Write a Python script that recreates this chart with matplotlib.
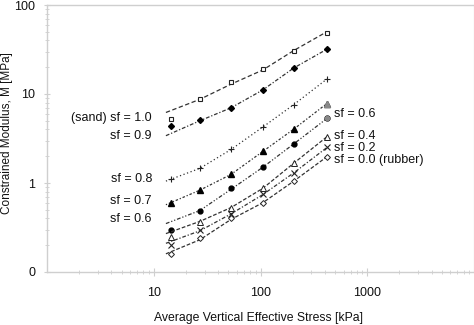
import matplotlib
matplotlib.use('Agg')
import matplotlib.pyplot as plt
from matplotlib.ticker import FixedLocator, FixedFormatter, LogLocator, NullFormatter

plt.rcParams['font.family'] = ['Liberation Sans', 'DejaVu Sans']

# Average vertical effective stress [kPa] of the test points
stress = [14.4, 27, 53, 105, 205, 418]
fit_x = [13, 27, 53, 105, 205, 418]

# Constrained modulus [MPa], measured points
m_sf10 = [5.3, 8.8, 13.6, 18.9, 30.6, 48.8]
m_sf09 = [4.35, 5.1, 7.0, 11.1, 19.6, 31.8]
m_sf08 = [1.10, 1.46, 2.38, 4.25, 7.6, 14.7]
m_sf07 = [0.60, 0.83, 1.25, 2.26, 4.03, 7.8]
m_sf06 = [0.30, 0.485, 0.88, 1.52, 2.75, 5.35]
m_sf04 = [0.248, 0.366, 0.53, 0.87, 1.67, 3.3]
m_sf02 = [0.20, 0.294, 0.454, 0.743, 1.30, 2.53]
m_sf00 = [0.161, 0.241, 0.40, 0.60, 1.05, 1.97]

# Trend lines
f_sf10 = [6.2, 8.7, 12.9, 18.6, 30.8, 50]
f_sf09 = [3.4, 5.0, 7.0, 11.1, 19.6, 31.8]
f_sf08 = [1.05, 1.46, 2.38, 4.25, 7.6, 14.7]
f_sf07 = [0.57, 0.83, 1.25, 2.26, 4.03, 7.8]
f_sf06 = [0.35, 0.49, 0.85, 1.5, 2.75, 5.3]
f_sf04 = [0.27, 0.37, 0.53, 0.87, 1.67, 3.3]
f_sf02 = [0.21, 0.29, 0.45, 0.74, 1.3, 2.5]
f_sf00 = [0.16, 0.23, 0.39, 0.6, 1.05, 1.97]

y_ticks = [0.1, 1, 10, 100]
y_tick_labels = ['0', '1', '10', '100']
x_ticks = [10, 100, 1000]
x_tick_labels = ['10', '100', '1000']

fig = plt.figure(figsize=(4.74, 3.25), dpi=100)
ax = fig.add_axes([47 / 474, 1 - 272 / 325, 427 / 474, 267 / 325])
ax.set_xscale('log')
ax.set_yscale('log')

lc = '#333333'
lw = 0.9
series = [
    (m_sf10, f_sf10, dict(marker='s', mfc='white', mec='#222222', ms=3.5, mew=0.8), (0, (3.5, 2))),
    (m_sf09, f_sf09, dict(marker='D', mfc='black', mec='black', ms=3), (0, (3, 1.5, 1, 1.5))),
    (m_sf08, f_sf08, dict(marker='+', mec='#222222', ms=5, mew=0.8), (0, (1, 2))),
    (m_sf07, f_sf07, dict(marker='^', mfc='black', mec='black', ms=4), (0, (1, 1.5, 2, 1.5))),
    (m_sf06, f_sf06, dict(marker='o', mfc='black', mec='black', ms=3.5), (0, (3, 1.5, 1, 1.5, 1, 1.5))),
    (m_sf04, f_sf04, dict(marker='^', mfc='white', mec='#222222', ms=4, mew=0.7), (0, (3, 1.5))),
    (m_sf02, f_sf02, dict(marker='x', mec='#222222', ms=4, mew=0.8), (0, (3, 1.5, 1, 1.5))),
    (m_sf00, f_sf00, dict(marker='D', mfc='white', mec='#222222', ms=3, mew=0.7), (0, (3, 1.5))),
]
for m, f, mk, ls in series:
    ax.plot(fit_x, f, color=lc, lw=lw, linestyle=ls)
    ax.plot(stress, m, linestyle='none', **mk)

# last points of sf = 0.7 and 0.6 appear grey in the original
ax.plot(stress[-1:], m_sf07[-1:], linestyle='none', marker='^', mfc='#888888', mec='#888888', ms=4)
ax.plot(stress[-1:], m_sf06[-1:], linestyle='none', marker='o', mfc='#888888', mec='#888888', ms=3)

ax.set_xlim(1, 10000)
ax.set_ylim(0.1, 100)

ax.yaxis.set_major_locator(FixedLocator(y_ticks))
ax.yaxis.set_major_formatter(FixedFormatter(y_tick_labels))
ax.yaxis.set_minor_locator(LogLocator(base=10, subs=range(2, 10)))
ax.yaxis.set_minor_formatter(NullFormatter())
ax.xaxis.set_major_locator(FixedLocator(x_ticks))
ax.xaxis.set_major_formatter(FixedFormatter(x_tick_labels))
ax.xaxis.set_minor_locator(LogLocator(base=10, subs=range(2, 10)))
ax.xaxis.set_minor_formatter(NullFormatter())

spine_c = '#cfcfcf'
for s in ax.spines.values():
    s.set_color(spine_c)
    s.set_linewidth(1.0)
ax.spines['right'].set_color('#ececec')
ax.tick_params(which='both', colors=spine_c, labelcolor='#111111', labelsize=9)
ax.tick_params(axis='x', which='major', direction='inout', length=6, pad=8)
ax.tick_params(axis='x', which='minor', direction='inout', length=3)
ax.tick_params(axis='y', which='major', direction='inout', length=5, pad=6)
ax.tick_params(axis='y', which='minor', direction='inout', length=2.5)

fig.text(258 / 474, 1 - 318 / 325, 'Average Vertical Effective Stress [kPa]',
         fontsize=8.8, ha='center', va='center', color='#111111')
fig.text(7 / 474, 1 - 133 / 325, 'Constrained Modulus, M [MPa]',
         fontsize=8.5, ha='center', va='center', rotation=90, color='#111111')

tk = dict(fontsize=9, color='#111111', va='center')
left_labels = [('(sand) sf = 1.0', 118), ('sf = 0.9', 136), ('sf = 0.8', 179),
               ('sf = 0.7', 201), ('sf = 0.6', 219)]
for txt, py in left_labels:
    fig.text(152 / 474, 1 - py / 325, txt, ha='right', **tk)
right_labels = [('sf = 0.6', 114), ('sf = 0.4', 136), ('sf = 0.2', 148),
                ('sf = 0.0 (rubber)', 160)]
for txt, py in right_labels:
    fig.text(334 / 474, 1 - py / 325, txt, ha='left', **tk)

fig.savefig('out.png', dpi=100)
